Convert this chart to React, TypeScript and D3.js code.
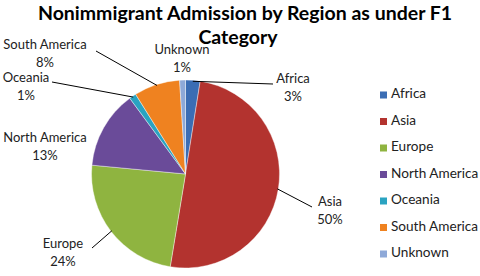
import React from "react";
import * as d3 from "d3";

// F1 admissions share by region
const regions = ["Africa", "Asia", "Europe", "North America", "Oceania", "South America", "Unknown"];
const shares = [2.5, 50.1, 23.9, 13.4, 1.2, 7.9, 1.0];
const colors = ["#3b6db4", "#b3332f", "#8fb440", "#6a4b99", "#2aa3c1", "#ef8220", "#8ea9d8"];

// where each data label sits (text anchor point) and the leader line elbow
const labelPos = [
  { x: 293, y: 80, elbow: [273, 84] },
  { x: 330, y: 203, elbow: [312, 207] },
  { x: 63, y: 245, elbow: [92, 248] },
  { x: 45, y: 139, elbow: null },
  { x: 26, y: 79, elbow: [52, 82] },
  { x: 45, y: 46, elbow: [96, 51] },
  { x: 182, y: 51, elbow: null },
];

const W = 480, H = 276;
const cx = 185.5, cy = 174, r = 94;

export default function App() {
  const data = regions.map((name, i) => ({ name, value: shares[i], color: colors[i] }));
  const pie = d3.pie<any>().value(d => d.value).sort(null);
  const arcs = pie(data);
  const arc = d3.arc<any>().innerRadius(0).outerRadius(r);
  const total = d3.sum(shares);
  const font = "Lato, 'Open Sans', sans-serif";

  return (
    <svg width={W} height={H} style={{ position: "absolute", left: 0, top: 0 }} fontFamily={font}>
      <rect width={W} height={H} fill="#fff" />
      <text x={245} y={20} textAnchor="middle" fontSize={19.5} fontWeight="bold" fill="#000">
        Nonimmigrant Admission by Region as under F1
      </text>
      <text x={238} y={44} textAnchor="middle" fontSize={19.5} fontWeight="bold" fill="#000">
        Category
      </text>
      <g transform={`translate(${cx},${cy})`}>
        {arcs.map((a, i) => (
          <path key={i} d={arc(a) || ""} fill={a.data.color} stroke="#fff" strokeWidth={0.4} />
        ))}
      </g>
      {arcs.map((a, i) => {
        const lp = labelPos[i];
        const mid = (a.startAngle + a.endAngle) / 2;
        const px = cx + Math.sin(mid) * (r - 1);
        const py = cy - Math.cos(mid) * (r - 1);
        const pct = Math.round((a.data.value / total) * 100) + "%";
        return (
          <g key={i}>
            {lp.elbow && (
              <polyline
                points={`${px},${py} ${lp.elbow[0]},${lp.elbow[1]}`}
                fill="none"
                stroke="#000"
                strokeWidth={1}
              />
            )}
            <text x={lp.x} y={lp.y} textAnchor="middle" dominantBaseline="middle" fontSize={13} fill="#222">
              {a.data.name}
            </text>
            <text x={lp.x} y={lp.y + 17.5} textAnchor="middle" dominantBaseline="middle" fontSize={13} fill="#222">
              {pct}
            </text>
          </g>
        );
      })}
      <g>
        {data.map((d, i) => (
          <g key={i} transform={`translate(380,${95 + i * 26.5})`}>
            <rect x={0} y={-3.5} width={7} height={7} fill={d.color} />
            <text x={11} y={0} dominantBaseline="middle" fontSize={13.6} fill="#222">
              {d.name}
            </text>
          </g>
        ))}
      </g>
    </svg>
  );
}
